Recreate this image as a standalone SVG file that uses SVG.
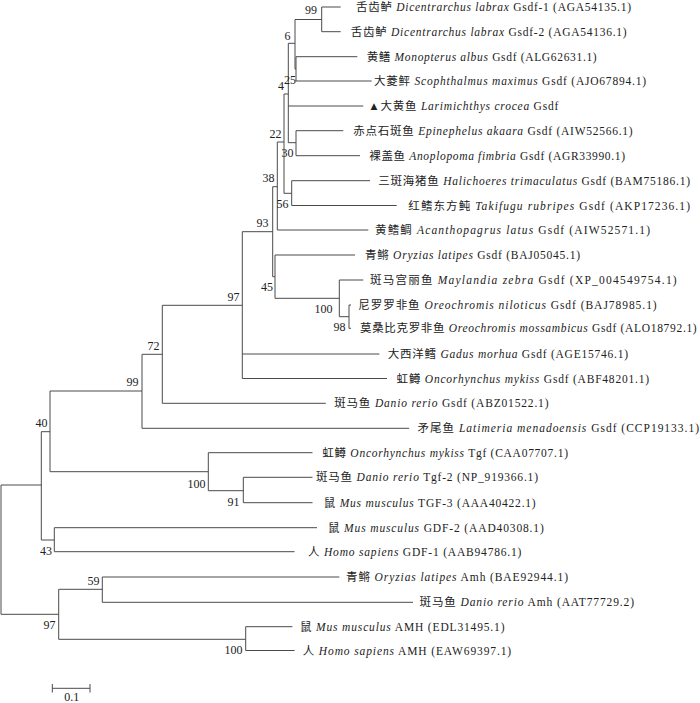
<svg xmlns="http://www.w3.org/2000/svg" width="700" height="703" viewBox="0 0 700 703">
<style>
.c{stroke:#4a4a4a;stroke-width:1;fill:none}
text{font-family:"Liberation Serif","Noto Sans CJK SC",serif;fill:#222}
.lf{font-size:11.5px}
.bs{font-size:12px;text-anchor:end}
.i{font-style:italic}
</style>
<rect width="700" height="703" fill="#fff"/>
<g id="connectors" class="c">
<path d="M321.7 7V31.7M295 19.5H321.7M295 19.5V69M295 69H296M296 56.7V81"/>
<path d="M288.3 43.3H295M288.3 43.3V142.7M288.3 142.7H296M296 130.7V155.7"/>
<path d="M284 94H288.3M284 94V193.3M284 193.3H291.7M291.7 180.7V205.5"/>
<path d="M277.3 142H284M277.3 142V230M272.7 186.7H277.3M272.7 186.7V276.7M272.7 276.7H275M275 255V298.3"/>
<path d="M275 298.3H339.3M339.3 280V316.7M339.3 316.7H349M349 305V328.3"/>
<path d="M242.3 231.7H272.7M242.3 231.7V378.5M162.3 305.3H242.3M162.3 305.3V403.3M142 354.3H162.3M142 354.3V428.3"/>
<path d="M50 391H142M50 391V471.7M41.3 431.7H50M41.3 431.7V540M41.3 540H54.3M54.3 527.7V551.7"/>
<path d="M50 471.7H208.3M208.3 452.7V490.7M208.3 490.7H243.3M243.3 477.3V502.7"/>
<path d="M1 485H41.3M1 485V614.3M1 614.3H58.7M58.7 589.3V639.3M58.7 589.3H102.3M102.3 577V602.3M58.7 639.3H245.7M245.7 626.7V650.5"/>
<path d="M321.7 7H340.7M321.7 31.7H340.7M296 56.7H357.3M296 81H371.7M288.3 106H363.3M296 130.7H343.3M296 155.7H360M291.7 180.7H370M291.7 205.5H396.7M277.3 230H368.3M275 255H355M339.3 280H363.3M349 305H351M349 328.3H351"/>
<path d="M242.3 354H379.4M242.3 378.5H387M162.3 403.3H325.8M142 428.3H409.2M208.3 452.7H312.5M243.3 477.3H312.5M243.3 502.7H312.5M54.3 527.7H317M54.3 551.7H294.6M102.3 577H339.3M102.3 602.3H413M245.7 626.7H292.4M245.7 650.5H294.6"/>
</g>
<g id="bootstrap">
<text class="bs" x="317" y="14">99</text>
<text class="bs" x="290.5" y="40">6</text>
<text class="bs" x="296" y="84">25</text>
<text class="bs" x="284" y="90">4</text>
<text class="bs" x="281.5" y="138">22</text>
<text class="bs" x="293.5" y="157">30</text>
<text class="bs" x="274.5" y="182">38</text>
<text class="bs" x="288.5" y="208">56</text>
<text class="bs" x="268.5" y="227">93</text>
<text class="bs" x="273" y="291">45</text>
<text class="bs" x="332.5" y="313">100</text>
<text class="bs" x="345.5" y="331">98</text>
<text class="bs" x="239.5" y="301">97</text>
<text class="bs" x="159.5" y="350">72</text>
<text class="bs" x="138.5" y="386">99</text>
<text class="bs" x="47.5" y="427">40</text>
<text class="bs" x="205.5" y="487.5">100</text>
<text class="bs" x="239.5" y="506">91</text>
<text class="bs" x="52" y="555">43</text>
<text class="bs" x="99.5" y="585">59</text>
<text class="bs" x="55.5" y="629">97</text>
<text class="bs" x="242.5" y="653.5">100</text>
</g>
<g id="leaf1"><text class="lf" x="356" y="11" textLength="275" lengthAdjust="spacing">舌齿鲈 <tspan class="i">Dicentrarchus  labrax</tspan> Gsdf-1 (AGA54135.1)</text></g>
<g id="leaf2"><text class="lf" x="350.7" y="35.7" textLength="276" lengthAdjust="spacing">舌齿鲈 <tspan class="i">Dicentrarchus labrax</tspan> Gsdf-2 (AGA54136.1)</text></g>
<g id="leaf3"><text class="lf" x="366.7" y="60.7" textLength="230" lengthAdjust="spacing">黄鳝 <tspan class="i">Monopterus albus</tspan> Gsdf (ALG62631.1)</text></g>
<g id="leaf4"><text class="lf" x="374" y="85" textLength="272" lengthAdjust="spacing">大菱鲆 <tspan class="i">Scophthalmus maximus</tspan> Gsdf (AJO67894.1)</text></g>
<g id="leaf5"><text class="lf" x="368.3" y="110" textLength="190" lengthAdjust="spacing">▲大黄鱼 <tspan class="i">Larimichthys crocea</tspan> Gsdf</text></g>
<g id="leaf6"><text class="lf" x="353.3" y="134.7" textLength="279.4" lengthAdjust="spacing">赤点石斑鱼 <tspan class="i">Epinephelus akaara</tspan> Gsdf (AIW52566.1)</text></g>
<g id="leaf7"><text class="lf" x="369.3" y="159.7" textLength="255.7" lengthAdjust="spacing">裸盖鱼 <tspan class="i">Anoplopoma fimbria</tspan> Gsdf (AGR33990.1)</text></g>
<g id="leaf8"><text class="lf" x="378.3" y="184.7" textLength="311.7" lengthAdjust="spacing">三斑海猪鱼 <tspan class="i">Halichoeres trimaculatus</tspan> Gsdf (BAM75186.1)</text></g>
<g id="leaf9"><text class="lf" x="408.3" y="209.5" textLength="281.7" lengthAdjust="spacing">红鳍东方鲀 <tspan class="i">Takifugu rubripes</tspan> Gsdf (AKP17236.1)</text></g>
<g id="leaf10"><text class="lf" x="375" y="234" textLength="275" lengthAdjust="spacing">黄鳍鲷 <tspan class="i">Acanthopagrus latus</tspan> Gsdf (AIW52571.1)</text></g>
<g id="leaf11"><text class="lf" x="365" y="259" textLength="215" lengthAdjust="spacing">青鳉 <tspan class="i">Oryzias latipes</tspan> Gsdf (BAJ05045.1)</text></g>
<g id="leaf12"><text class="lf" x="370" y="284" textLength="306.7" lengthAdjust="spacing">斑马宫丽鱼 <tspan class="i">Maylandia zebra</tspan> Gsdf (XP_004549754.1)</text></g>
<g id="leaf13"><text class="lf" x="358.3" y="309" textLength="298.4" lengthAdjust="spacing">尼罗罗非鱼 <tspan class="i">Oreochromis niloticus</tspan> Gsdf (BAJ78985.1)</text></g>
<g id="leaf14"><text class="lf" x="360" y="332.3" textLength="336.7" lengthAdjust="spacing">莫桑比克罗非鱼 <tspan class="i">Oreochromis mossambicus</tspan> Gsdf (ALO18792.1)</text></g>
<g id="leaf15"><text class="lf" x="387.8" y="358" textLength="240.2" lengthAdjust="spacing">大西洋鳕 <tspan class="i">Gadus morhua</tspan> Gsdf (AGE15746.1)</text></g>
<g id="leaf16"><text class="lf" x="396.6" y="382.5" textLength="252.4" lengthAdjust="spacing">虹鳟 <tspan class="i">Oncorhynchus mykiss</tspan> Gsdf (ABF48201.1)</text></g>
<g id="leaf17"><text class="lf" x="334.2" y="407.3" textLength="214.3" lengthAdjust="spacing">斑马鱼 <tspan class="i">Danio rerio</tspan> Gsdf (ABZ01522.1)</text></g>
<g id="leaf18"><text class="lf" x="417.6" y="432.3" textLength="281.4" lengthAdjust="spacing">矛尾鱼 <tspan class="i">Latimeria menadoensis</tspan> Gsdf (CCP19133.1)</text></g>
<g id="leaf19"><text class="lf" x="322.3" y="456.7" textLength="245.7" lengthAdjust="spacing">虹鳟 <tspan class="i">Oncorhynchus mykiss</tspan> Tgf (CAA07707.1)</text></g>
<g id="leaf20"><text class="lf" x="316" y="481.3" textLength="222" lengthAdjust="spacing">斑马鱼 <tspan class="i">Danio rerio</tspan> Tgf-2 (NP_919366.1)</text></g>
<g id="leaf21"><text class="lf" x="323.7" y="506.7" textLength="212" lengthAdjust="spacing">鼠 <tspan class="i">Mus musculus</tspan> TGF-3 (AAA40422.1)</text></g>
<g id="leaf22"><text class="lf" x="328" y="531.7" textLength="215.8" lengthAdjust="spacing">鼠 <tspan class="i">Mus musculus</tspan> GDF-2 (AAD40308.1)</text></g>
<g id="leaf23"><text class="lf" x="308" y="555.7" textLength="213.4" lengthAdjust="spacing">人 <tspan class="i">Homo sapiens</tspan> GDF-1 (AAB94786.1)</text></g>
<g id="leaf24"><text class="lf" x="346" y="581" textLength="222" lengthAdjust="spacing">青鳉 <tspan class="i">Oryzias latipes</tspan> Amh (BAE92944.1)</text></g>
<g id="leaf25"><text class="lf" x="419.6" y="606.3" textLength="214.4" lengthAdjust="spacing">斑马鱼 <tspan class="i">Danio rerio</tspan> Amh (AAT77729.2)</text></g>
<g id="leaf26"><text class="lf" x="300" y="630.7" textLength="204.5" lengthAdjust="spacing">鼠 <tspan class="i">Mus musculus</tspan> AMH (EDL31495.1)</text></g>
<g id="leaf27"><text class="lf" x="302.7" y="654.5" textLength="208.5" lengthAdjust="spacing">人 <tspan class="i">Homo sapiens</tspan> AMH (EAW69397.1)</text></g>
<g id="scalebar">
<path class="c" d="M52.3 688.3H90M52.3 684V692.5M90 684V692.5"/>
<text x="71.7" y="701" font-size="12" text-anchor="middle">0.1</text>
</g>
</svg>
